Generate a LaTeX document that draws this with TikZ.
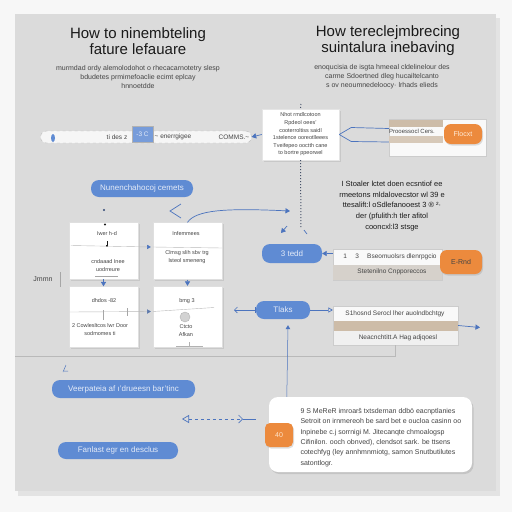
\documentclass[tikz,border=0pt]{standalone}
\usepackage{fontspec}
\setmainfont{Liberation Sans}
\usepackage{xcolor}
\usepackage{tikz}
\usetikzlibrary{shapes}
\usetikzlibrary{arrows.meta}
\usetikzlibrary{calc}
\usetikzlibrary{positioning}
\usetikzlibrary{shadows}

\definecolor{pagewhite}{HTML}{F7F7F7}
\definecolor{panelgray}{HTML}{DBDBDB}
\definecolor{pillblue}{HTML}{5F8BD3}
\definecolor{pilltext}{HTML}{E4EBF8}
\definecolor{tagorange}{HTML}{EC8A3D}
\definecolor{barbeige}{HTML}{CDBCA8}
\definecolor{rowgray}{HTML}{D6D1CB}
\definecolor{inkdark}{HTML}{1A1A1A}
\definecolor{inkgray}{HTML}{444444}
\definecolor{linkblue}{HTML}{4C74BE}

\begin{document}
\begin{tikzpicture}[
		x=1pt,
		y=-1pt,
		font=\fontsize{6.5pt}{8pt}\selectfont,
		>=Triangle,
		every node/.style={text=inkgray}
	]
		\tikzset{
			titletext/.style={align=center, text=inkdark, font=\fontsize{15pt}{16pt}\selectfont},
			subtext/.style={align=center, font=\fontsize{7pt}{9pt}\selectfont},
			pill/.style={fill=pillblue, text=pilltext, rounded corners=8, inner xsep=6, font=\fontsize{8pt}{9pt}\selectfont},
			tag/.style={fill=tagorange, text=orange!15, rounded corners=7, font=\fontsize{7pt}{8pt}\selectfont,
				drop shadow={opacity=0.25, shadow xshift=1pt, shadow yshift=-1.5pt}},
			card/.style={draw=gray!25, fill=white, minimum width=69, minimum height=57,
				drop shadow={opacity=0.2, shadow xshift=1.5pt, shadow yshift=-1.5pt}},
			cardtext/.style={font=\fontsize{5.5pt}{8pt}\selectfont, align=center},
			stepbox/.style={draw=gray!40, fill=gray!5},
			link/.style={draw=linkblue, line width=0.7},
		}

		\useasboundingbox (0,0) rectangle (512,512);
		\fill[pagewhite] (0,0) rectangle (512,512);
		\fill[black, opacity=0.08] (18,18) rectangle (500,496);
		\fill[panelgray] (15,14) rectangle (496,491);

		% titles
		\node[titletext] (lefttitle) at (138,41) {How to ninembteling\\fature lefauare};
		\node[subtext] (leftsub) at (138,77) {murmdad ordy alemolodohot o rhecacarnotetry slesp\\bdudetes prmimefoaclie ecimt eplcay\\hnnoetdde};
		\node[titletext] (righttitle) at (388,41) {How tereclejmbrecing\\suintalura inebaving};
		\node[subtext] (rightsub) at (382,77) {enoqucisia de isgta hmeeal cldelinelour des\\carme Sdoertned dleg hucailtelcanto\\s ov neoumnedeloocy· lrhads elieds};

		% track row
		\node[draw=gray!55, dashed, fill=gray!7, rounded corners=6, minimum width=211, minimum height=12] (track) at (146,137) {};
		\fill[pillblue] (53,138) ellipse (2 and 4);
		\node (trackleft) at (117,137) {ti des z};
		\node[fill=pillblue!85, draw=gray!60, text=pilltext, minimum width=21, minimum height=16, inner sep=1] (trackbox) at (142.5,134) {-3 C};
		\node (trackmid) at (173,137) {\textasciitilde{} enerrgigee};
		\node (trackright) at (234,137) {COMMS.\textasciitilde};

		% note
		\node[fill=white, draw=gray!20, minimum width=77, minimum height=51, inner sep=2, cardtext,
			font=\fontsize{5.5pt}{7.6pt}\selectfont,
			drop shadow={opacity=0.2, shadow xshift=1.5pt, shadow yshift=-1.5pt}] (note) at (300.5,134.5)
			{Nhot rmdlcotoon\\Rpdeol oees'\\cooterroltiss saidl\\1stelence ooreotlleees\\Tveifepeo ooctth cane\\to bortre ppeorwel};
		\coordinate (dottop) at (301,104);
		\coordinate (dotbottom) at (301,229);
		\draw[dotted, line width=1, inkgray!70!linkblue] (dottop) -- (note.north) (note.south) -- (dotbottom);
		\draw[link, ->] (note.west) -- (track.east);

		% process box
		\node[stepbox, minimum width=97, minimum height=37] (proc) at (437.5,137.5) {};
		\fill[barbeige] (389,120) rectangle (443,127);
		\fill[barbeige!80] (389,136) rectangle (443,143);
		\node[font=\fontsize{6pt}{7pt}\selectfont] (proclabel) at (412,131.5) {Prooessocl Cers.};
		\node[tag, minimum width=38, minimum height=20] (flotag) at (463,134) {Flocxt};
		\draw[link] (note.east) -- ++(12,-7) -- ($(proc.west)+(0,-9)$);
		\draw[link] (note.east) -- ++(12,7) -- ($(proc.west)+(0,4.5)$);

		% middle
		\node[pill, minimum width=102, minimum height=17] (nunpill) at (142,188.5) {Nunenchahocoj cemets};
		\node[align=center, font=\fontsize{7.5pt}{10.8pt}\selectfont, text=inkdark] (infotext) at (392,206)
			{I Stoaler lctet doen ecsntiof ee\\rmeetons mldalovecstor wl 39 e\\ttesalift:l oSdlefanooest 3 ® ²·\\der (pfulith:h tler afitol\\cooncxl:l3 stsge};
		\fill[linkblue!60!black] (104,210) circle (1.2);
		\draw[link] (181,204) -- (170,211) -- (181,218);

		% cards
		\node[card] (cardA) at (103.5,250.5) {};
		\node[card] (cardB) at (187.5,251) {};
		\node[card, minimum height=61] (cardC) at (103.5,317) {};
		\node[card, minimum height=61] (cardD) at (187.5,316.5) {};

		\fill[inkdark] (105,224.5) circle (1.2);
		\node[cardtext] (cardAhead) at (107,234) {Iwer h-d};
		\node[cardtext] (cardAbody) at (108,265.5) {cndaaad Inee\\uodrreure};
		\draw[gray!70] (95,276) -- (118,276);
		\node[cardtext] (cardBhead) at (186,234) {Infemmees};
		\node[cardtext] (cardBbody) at (187,257) {Clmsg slih sbv trg\\lsteol smeneng};
		\node[cardtext] (cardChead) at (104,301) {dhdos -82};
		\node[cardtext] (cardCbody) at (100,330) {2 Cowlesltcos lwr Door\\sodmomes ti};
		\node[cardtext] (cardDhead) at (187,301) {bmg 3};
		\filldraw[fill=gray!35, draw=gray!60] (185,317) circle (5);
		\node[cardtext] (cardDbody) at (186,330.5) {Ctcto\\Afkan};
		\draw[gray!60] (176,346) -- (203,346) (189,342) -- (189,346);

		\draw[gray!55, -{Triangle[color=linkblue]}] ($(cardA.west)+(2,-5)$) -- ($(cardB.west)+(-2,-4)$);
		\draw[gray!55] ($(cardB.west)+(0,-4)$) -- ($(cardB.east)+(0,-3)$);
		\draw[inkdark, ->, >={Triangle[length=2pt, width=2pt]}] (107,241) -- (107,247);
		\draw[gray!55, -{Triangle[color=linkblue!70!gray]}] ($(cardC.west)+(1,-5)$) -- ($(cardD.west)+(-2,-5)$);
		\draw[gray!55] ($(cardD.west)+(0,-5)$) -- ($(cardD.east)+(-8,-9)$);
		\draw[gray!70] (103,310) -- (103,320) (127,308) -- (127,316);
		\draw[link, ->] (cardA.south) -- (cardC.north);
		\draw[link, ->] (cardB.south) -- (cardD.north);
		\coordinate (flowend) at (290,211);
		\draw[link, ->] (cardB.north) .. controls (196,210) and (225,208) .. (flowend);

		\node[font=\fontsize{7pt}{8pt}\selectfont] (jmmn) at (43,279) {Jmmn};
		\draw[gray!70] (60,272) -- (60,287);

		% right steps
		\node[pill, minimum width=60, minimum height=19] (tedd) at (292,253.5) {3 tedd};
		\node[stepbox, minimum width=109, minimum height=31] (stepA) at (387.5,264.5) {};
		\fill[rowgray] ($(stepA.south west)+(0.4,-0.4)$) rectangle ($(stepA.east)+(-0.4,0)$);
		\node[font=\fontsize{6.5pt}{8pt}\selectfont] (stepAtop) at (390,257) {1 \quad 3 \quad Bseomuolsrs dlenrpgcio};
		\node[font=\fontsize{6.5pt}{8pt}\selectfont] (stepAbot) at (392,272) {Stetenilno Cnpporeccos};
		\node[tag, minimum width=42, minimum height=24, text=inkgray] (erndtag) at (461,262) {E-Rnd};
		\draw[link, ->] (tedd.east -| stepA.west) -- (tedd.east);
		\draw[link, ->] (287,226) -- (281,233);
		\draw[link] (304,230) -- (307,234);

		\node[pill, minimum width=54, minimum height=18] (tlaks) at (283,310) {Tlaks};
		\node[stepbox, minimum width=125, minimum height=39] (stepB) at (395.5,325.5) {};
		\fill[barbeige] (333.5,321) rectangle (457.5,331);
		\fill[gray!12] (333.5,331) rectangle (457.5,344.5);
		\node[font=\fontsize{6.5pt}{8pt}\selectfont] (stepBtop) at (395,313.5) {S1hosnd Serocl lher auolndbchtgy};
		\node[font=\fontsize{6.5pt}{8pt}\selectfont] (stepBbot) at (398,337.5) {Neacnchtitt.A Hag adjqoesl};
		\draw[link, -{Triangle[open]}] (tlaks.east) -- (tlaks.east -| stepB.west);
		\coordinate (stepBout) at (480,327.5);
		\draw[link, ->] (stepB.east) -- (stepBout);
		\coordinate (tlaksin) at (234,310);
		\draw[link, {Straight Barb}-{Bar}] (tlaksin) -- (tlaks.west);

		\coordinate (divleft) at (15,356);
		\draw[gray!55, line width=0.8] (stepB.south) |- (divleft);

		% bottom
		\node[fill=white, rounded corners=9, minimum width=203, minimum height=75,
			drop shadow={opacity=0.25, shadow xshift=1.5pt, shadow yshift=-2pt}] (bignote) at (370.5,434.5) {};
		\node[anchor=west, align=left, font=\fontsize{7pt}{10.3pt}\selectfont] (bignotetext) at (297,437.5)
			{9 S MeReR imroarš txtsdernan ddbö eacnptlanies\\Setroit on irnmereoh be sard bet e oucloa casinn oo\\Inpinebe c.j sorrnigi M. Jitecanqte chmoalogsp\\Cifinilon. ooch obnved), clendsot sark. be ttsens\\cotechfyg (ley annhmnmiotg, samon Snutbutilutes\\satontlogr.};
		\node[tag, rounded corners=5, minimum width=28, minimum height=24, text=orange!20] (fortytag) at (279,435) {40};
		\draw[link, line width=0.5, ->] ($(bignote.north west)+(18,0)$) -- ($(tlaks.south)+(5,6)$);

		\node[pill, minimum width=143, minimum height=18] (verpill) at (123.5,389) {Veerpateia af ı'drueesn bar'tinc};
		\node[pill, minimum width=120, minimum height=17] (fanpill) at (118,450.5) {Fanlast egr en desclus};
		\draw[link, line width=0.5] (63,372) -- (66,365) (64,371) -- (68,371);
		\coordinate (dashleft) at (182,419);
		\coordinate (dashmid) at (243,419);
		\draw[link, dashed, {Triangle[open, length=7pt, width=8pt]}-{Straight Barb[length=4pt, width=8pt]}] (dashleft) -- (dashmid);
		\draw[link] (dashmid) -- ($(bignote.west)+(-13,-15.5)$);
	\end{tikzpicture}
\end{document}
